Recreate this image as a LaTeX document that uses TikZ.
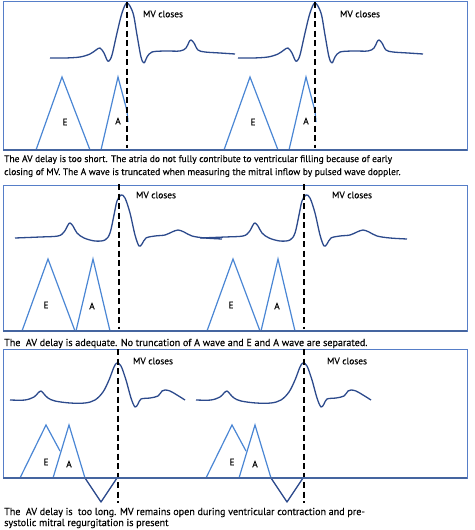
\documentclass[tikz,border=0pt]{standalone}
\usepackage{fontspec}
\setmainfont{PT Sans}[FakeBold=0.25]
\definecolor{ecgblue}{RGB}{44,74,140}
\definecolor{flowblue}{RGB}{74,134,212}
\definecolor{boxblue}{RGB}{86,126,200}
\tikzset{
  panel/.style={draw=boxblue, line width=0.9pt},
  floor/.style={draw=boxblue!80!black, line width=1.5pt},
  ecg/.style={draw=ecgblue, line width=1.3pt, smooth, tension=0.55, line join=round},
  flow/.style={draw=flowblue, line width=1.2pt},
  valve/.style={draw=black, line width=1.6pt, dash pattern=on 6pt off 3.5pt},
  wave/.style={font=\fontsize{9.4}{11}\selectfont, inner sep=0pt},
  caption/.style={font=\fontsize{9.5}{11}\selectfont, inner sep=0pt, anchor=base west},
  bigcaption/.style={caption, font=\fontsize{10.1}{12}\selectfont}
}
\begin{document}
\begin{tikzpicture}[x=1pt,y=-1pt]
    \useasboundingbox (0,0) rectangle (474,530);
    % Panel 1: AV delay too short
    \draw[panel] (3,1) rectangle (467,150);
    \foreach \dx/\lx/\i in {0/163/1,188/172/2} {
        \begin{scope}[shift={(\dx,0)}]
            \draw[ecg] plot coordinates {(50,58) (65,58) (80,57) (90,54) (96,50) (100,48) (104,53) (107,60) (109,61) (112,55) (117,33) (122,13) (127,3) (133,13) (137,35) (141,57) (144,63) (147,57) (152,52) (165,51) (180,51) (186,48) (189,42) (191,40) (194,43) (198,50) (205,52) (220,53) (235,54)};
            \draw[flow] (36,150) -- (62,77) -- (90,150);
            \draw[flow] (101,150) -- (118,77) -- (127,111) -- (128,122);
            \node[wave] (E1-\i) at (65,122) {E};
            \node[wave] (A1-\i) at (118,121) {A};
            \node[wave] (mv1-\i) at (\lx,14) {MV closes};
            \draw[valve] (127,2) -- (127,148);
        \end{scope}
    }
    \draw[floor] (3,150) -- (467,150);
    \node[caption] (cap1a) at (4,162) {The AV delay is too short. The atria do not fully contribute to ventricular filling because of early};
    \node[caption] (cap1b) at (4,175) {closing of MV. The A wave is truncated when measuring the mitral inflow by pulsed wave doppler.};
    % Panel 2: AV delay adequate
    \draw[panel] (3,185) rectangle (467,331);
    \foreach \dx/\lx/\i in {0/156/1,185/167/2} {
        \begin{scope}[shift={(\dx,0)}]
            \draw[ecg] plot coordinates {(15,238) (40,237) (58,236) (64,232) (68,225) (70,223) (73,226) (77,233) (84,238) (95,241) (105,240) (110,233) (114,215) (117,201) (121,195) (125,198) (130,213) (135,235) (139,246) (142,244) (146,238) (155,236) (165,235) (172,232) (178,230) (184,232) (192,236) (205,238) (222,239)};
            \draw[flow] (22,331) -- (48,259) -- (75,331);
            \draw[flow] (76,331) -- (93,259) -- (110,331);
            \node[wave] (E2-\i) at (46,305) {E};
            \node[wave] (A2-\i) at (92,306) {A};
            \node[wave] (mv2-\i) at (\lx,195) {MV closes};
            \draw[valve] (119,184) -- (119,329);
        \end{scope}
    }
    \draw[floor] (3,331) -- (467,331);
    \node[bigcaption] (cap2) at (4,346) {The\ \ AV delay is adequate. No truncation of A wave and E and A wave are separated.};
    % Panel 3: AV delay too long
    \draw[panel] (3,349) rectangle (467,478);
    \foreach \dx/\lx/\i in {0/153/1,186/161/2} {
        \begin{scope}[shift={(\dx,0)}]
            \draw[ecg] plot coordinates {(10,400) (25,400) (34,397) (38,393) (41,391) (44,394) (48,398) (55,401) (70,403) (85,403) (95,400) (103,392) (109,380) (114,367) (117,363) (121,366) (126,380) (131,398) (135,407) (138,404) (141,399) (150,398) (158,396) (162,391) (165,390) (170,391) (177,395) (185,400)};
            \draw[flow] (20,478) -- (46,425) -- (60,451);
            \draw[flow] (53,478) -- (69,425) -- (85,478);
            \draw[ecg] (85,478) -- (101,502) -- (117,478);
            \node[wave] (E3-\i) at (46,462) {E};
            \node[wave] (A3-\i) at (69,464) {A};
            \node[wave] (mv3-\i) at (\lx,361) {MV closes};
            \draw[valve] (118,349) -- (118,503);
        \end{scope}
    }
    \draw[floor] (3,478) -- (467,478);
    \node[bigcaption] (cap3a) at (4,515) {The\ \ AV delay is\ \ too long. MV remains open during ventricular contraction and pre-};
    \node[bigcaption] (cap3b) at (4,526) {systolic mitral regurgitation is present};
\end{tikzpicture}
\end{document}
